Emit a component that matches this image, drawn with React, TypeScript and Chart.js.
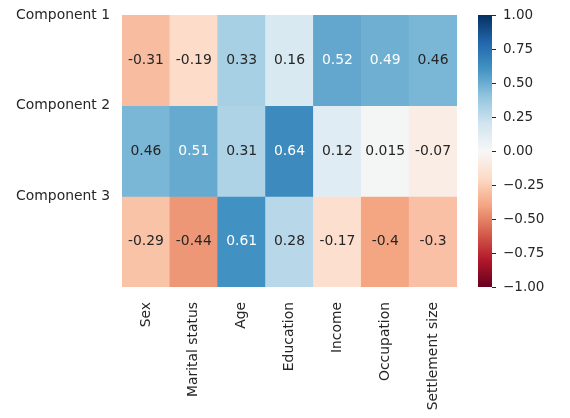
import { useEffect, useRef } from 'react';
import { Chart, registerables } from 'chart.js';

Chart.register(...registerables);

// Loadings of each feature on the three components
const features = ['Sex', 'Marital status', 'Age', 'Education', 'Income', 'Occupation', 'Settlement size'];
const components = ['Component 1', 'Component 2', 'Component 3'];
const component1 = [-0.31, -0.19, 0.33, 0.16, 0.52, 0.49, 0.46];
const component2 = [0.46, 0.51, 0.31, 0.64, 0.12, 0.015, -0.07];
const component3 = [-0.29, -0.44, 0.61, 0.28, -0.17, -0.4, -0.3];
const rows = [component1, component2, component3];
const colorbarMin = -1;
const colorbarMax = 1;

// matplotlib RdBu colormap stops
const rdBu = [
  '#67001f', '#b2182b', '#d6604d', '#f4a582', '#fddbc7', '#f7f7f7',
  '#d1e5f0', '#92c5de', '#4393c3', '#2166ac', '#053061'
];

const FONT = '"DejaVu Sans", sans-serif';
const TEXT = '#262626';
const SIZE = 13.9;

function hexToRgb(hex: string) {
  const n = parseInt(hex.slice(1), 16);
  return [(n >> 16) & 255, (n >> 8) & 255, n & 255];
}

function cellRgb(v: number) {
  const p = Math.min(1, Math.max(0, (v - colorbarMin) / (colorbarMax - colorbarMin))) * 10;
  const i = Math.min(9, Math.floor(p));
  const t = p - i;
  const a = hexToRgb(rdBu[i]);
  const b = hexToRgb(rdBu[i + 1]);
  return a.map((c, k) => Math.round(c + (b[k] - c) * t));
}

function cellColor(v: number) {
  const [r, g, b] = cellRgb(v);
  return `rgb(${r}, ${g}, ${b})`;
}

// seaborn picks white or dark annotation text by luminance
function textColor(v: number) {
  const lin = cellRgb(v).map(c => {
    const s = c / 255;
    return s <= 0.03928 ? s / 12.92 : Math.pow((s + 0.055) / 1.055, 2.4);
  });
  const lum = 0.2126 * lin[0] + 0.7152 * lin[1] + 0.0722 * lin[2];
  return lum > 0.408 ? TEXT : '#ffffff';
}

const annotations = {
  id: 'annotations',
  afterDatasetsDraw(chart: Chart) {
    const ctx = chart.ctx;
    ctx.save();
    ctx.font = `${SIZE}px ${FONT}`;
    ctx.textAlign = 'center';
    ctx.textBaseline = 'middle';
    chart.data.datasets.forEach((ds, di) => {
      const meta = chart.getDatasetMeta(di);
      meta.data.forEach((bar: any, i) => {
        const v = rows[di][i];
        ctx.fillStyle = textColor(v);
        ctx.fillText(String(v), bar.x, (bar.y + bar.base) / 2);
      });
    });
    ctx.restore();
  }
};

export default function App() {
  const heatRef = useRef<HTMLCanvasElement>(null);
  const barRef = useRef<HTMLCanvasElement>(null);

  useEffect(() => {
    let heatChart: Chart | null = null;
    let barChart: Chart | null = null;

    if (heatRef.current) {
      heatChart = new Chart(heatRef.current, {
        type: 'bar',
        data: {
          labels: features,
          datasets: rows.map((row, r) => ({
            label: components[r],
            data: row.map(() => [r, r + 1]) as any,
            backgroundColor: row.map(cellColor),
            borderWidth: 0,
            barPercentage: 1,
            categoryPercentage: 1,
            grouped: false
          }))
        },
        options: {
          animation: false,
          responsive: true,
          maintainAspectRatio: false,
          layout: { padding: { left: 0, top: 15, right: 13, bottom: 0 } },
          plugins: { legend: { display: false }, tooltip: { enabled: false } },
          scales: {
            x: {
              grid: { display: false, drawTicks: false },
              border: { display: false },
              afterFit: (scale: any) => {
                scale.height = 131;
                scale.paddingLeft = 0;
                scale.paddingRight = 0;
              },
              ticks: {
                color: TEXT,
                font: { family: FONT, size: SIZE },
                maxRotation: 90,
                minRotation: 90,
                padding: 15,
                autoSkip: false
              }
            },
            y: {
              type: 'linear',
              min: 0,
              max: 3,
              reverse: true,
              grid: { display: false, drawTicks: false },
              border: { display: false },
              afterFit: (scale: any) => {
                scale.width = 122;
                scale.paddingTop = 0;
                scale.paddingBottom = 0;
              },
              afterBuildTicks: (scale: any) => {
                scale.ticks = components.map((_, i) => ({ value: i }));
              },
              ticks: {
                color: TEXT,
                font: { family: FONT, size: SIZE },
                padding: 12,
                callback: (_v: any, i: number) => components[i]
              }
            }
          }
        },
        plugins: [annotations]
      });
    }

    if (barRef.current) {
      barChart = new Chart(barRef.current, {
        type: 'bar',
        data: {
          labels: [''],
          datasets: [{
            data: [[colorbarMin, colorbarMax]] as any,
            backgroundColor: (c: any) => {
              const area = c.chart.chartArea;
              if (!area) return rdBu[5];
              const g = c.chart.ctx.createLinearGradient(0, area.bottom, 0, area.top);
              rdBu.forEach((col, i) => g.addColorStop(i / 10, col));
              return g;
            },
            borderWidth: 0,
            barPercentage: 1,
            categoryPercentage: 1
          }]
        },
        options: {
          animation: false,
          responsive: true,
          maintainAspectRatio: false,
          layout: { padding: { left: 38, top: 15, right: 0, bottom: 131 } },
          plugins: { legend: { display: false }, tooltip: { enabled: false } },
          scales: {
            x: { display: false },
            y: {
              position: 'right',
              min: colorbarMin,
              max: colorbarMax,
              grid: { drawOnChartArea: false, drawTicks: true, tickLength: 4, color: TEXT },
              border: { display: false },
              afterFit: (scale: any) => {
                scale.width = 78;
                scale.paddingTop = 0;
                scale.paddingBottom = 0;
              },
              ticks: {
                stepSize: 0.25,
                color: TEXT,
                font: { family: FONT, size: 13.5 },
                padding: 7,
                callback: (v: any) => Number(v).toFixed(2).replace('-', '\u2212')
              }
            }
          }
        }
      });
    }

    return () => {
      heatChart?.destroy();
      barChart?.destroy();
    };
  }, []);

  return (
    <div style={{ position: 'fixed', left: 0, top: 0, width: 570, height: 418, background: '#ffffff' }}>
      <div style={{ position: 'absolute', left: 0, top: 0, width: 470, height: 418 }}>
        <canvas ref={heatRef}></canvas>
      </div>
      <div style={{ position: 'absolute', left: 440, top: 0, width: 130, height: 418 }}>
        <canvas ref={barRef}></canvas>
      </div>
    </div>
  );
}
